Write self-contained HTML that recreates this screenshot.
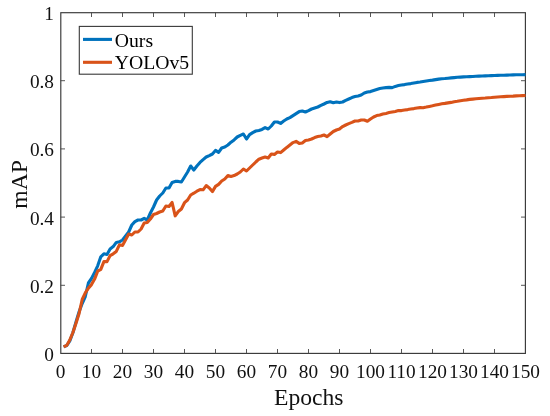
<!DOCTYPE html>
<html><head><meta charset="utf-8"><title>mAP</title>
<style>html,body{margin:0;padding:0;background:#fff}svg{display:block}text{font-family:"Liberation Serif","Times New Roman",serif}</style>
</head><body>
<svg width="550" height="416" viewBox="0 0 550 416">
<rect width="550" height="416" fill="#fff"/>
<rect x="60.8" y="12.7" width="464.6" height="340.7" fill="#fff" stroke="#383838" stroke-width="1.15"/>
<path d="M91.5 353.5v-4.5M91.5 12.5v4.5M122.5 353.5v-4.5M122.5 12.5v4.5M153.5 353.5v-4.5M153.5 12.5v4.5M184.5 353.5v-4.5M184.5 12.5v4.5M215.5 353.5v-4.5M215.5 12.5v4.5M246.5 353.5v-4.5M246.5 12.5v4.5M277.5 353.5v-4.5M277.5 12.5v4.5M308.5 353.5v-4.5M308.5 12.5v4.5M339.5 353.5v-4.5M339.5 12.5v4.5M370.5 353.5v-4.5M370.5 12.5v4.5M401.5 353.5v-4.5M401.5 12.5v4.5M432.5 353.5v-4.5M432.5 12.5v4.5M463.5 353.5v-4.5M463.5 12.5v4.5M494.5 353.5v-4.5M494.5 12.5v4.5M60.5 285.3h4.5M525.5 285.3h-4.5M60.5 217.1h4.5M525.5 217.1h-4.5M60.5 148.9h4.5M525.5 148.9h-4.5M60.5 80.7h4.5M525.5 80.7h-4.5" stroke="#444" stroke-width="0.9" fill="none"/>
<g font-size="19.3" text-anchor="middle" fill="#111"><text x="60.5" y="377.6">0</text><text x="91.5" y="377.6">10</text><text x="122.5" y="377.6">20</text><text x="153.5" y="377.6">30</text><text x="184.5" y="377.6">40</text><text x="215.5" y="377.6">50</text><text x="246.5" y="377.6">60</text><text x="277.5" y="377.6">70</text><text x="308.5" y="377.6">80</text><text x="339.5" y="377.6">90</text><text x="370.5" y="377.6">100</text><text x="401.5" y="377.6">110</text><text x="432.5" y="377.6">120</text><text x="463.5" y="377.6">130</text><text x="494.5" y="377.6">140</text><text x="525.5" y="377.6">150</text></g>
<g font-size="19.3" text-anchor="end" fill="#111"><text x="54" y="361.0">0</text><text x="54" y="292.8">0.2</text><text x="54" y="224.6">0.4</text><text x="54" y="156.4">0.6</text><text x="54" y="88.2">0.8</text><text x="54" y="20.0">1</text></g>
<text x="308.8" y="404.5" font-size="23.6" text-anchor="middle" fill="#111">Epochs</text>
<text transform="translate(26.8,184.4) rotate(-90)" font-size="23.6" text-anchor="middle" fill="#111">mAP</text>
<polyline points="63.6,346.8 66.7,345.6 69.8,341.0 72.9,332.8 76.0,322.0 79.1,311.8 82.2,303.5 85.3,296.5 88.4,283.0 91.5,278.5 94.6,272.5 97.7,265.8 100.8,256.8 103.9,253.8 107.0,254.4 110.1,249.0 113.2,246.6 116.3,242.4 119.4,241.8 122.5,240.0 125.6,236.0 128.7,232.0 131.8,225.0 134.9,221.6 138.0,220.0 141.1,220.0 144.2,218.4 147.3,220.0 150.4,213.0 153.5,207.0 156.6,200.0 159.7,196.0 162.8,193.0 165.9,188.0 169.0,188.0 172.1,182.4 175.2,181.4 178.3,181.4 181.4,182.0 184.5,177.0 187.6,172.0 190.7,166.0 193.8,170.0 196.9,166.0 200.0,162.4 203.1,159.6 206.2,157.0 209.3,155.6 212.4,154.0 215.5,150.4 218.6,152.4 221.7,148.0 224.8,147.0 227.9,145.0 231.0,142.2 234.1,139.9 237.2,137.0 240.3,135.4 243.4,134.0 246.5,139.0 249.6,134.6 252.7,132.6 255.8,131.0 258.9,130.4 262.0,129.4 265.1,127.6 268.2,129.0 271.3,126.0 274.4,122.0 277.5,122.0 280.6,123.4 283.7,121.0 286.8,119.0 289.9,117.6 293.0,115.6 296.1,113.6 299.2,111.6 302.3,111.0 305.4,112.0 308.5,110.6 311.6,109.0 314.7,108.0 317.8,107.0 320.9,105.4 324.0,104.0 327.1,102.4 330.2,101.7 333.3,102.7 336.4,102.0 339.5,102.6 342.6,102.0 345.7,100.4 348.8,99.0 351.9,97.6 355.0,96.6 358.1,96.0 361.2,95.0 364.3,93.0 367.4,92.0 370.5,91.6 373.6,90.6 376.7,89.6 379.8,88.6 382.9,88.0 386.0,87.6 389.1,87.4 392.2,87.6 395.3,86.4 398.4,85.6 401.5,85.0 404.6,84.6 407.7,84.0 410.8,83.6 413.9,83.0 417.0,82.4 420.1,82.0 423.2,81.5 426.3,81.0 429.4,80.5 432.5,80.1 435.6,79.6 438.7,79.1 441.8,78.7 444.9,78.5 448.0,78.2 451.1,77.9 454.2,77.6 457.3,77.3 460.4,77.1 463.5,76.9 466.6,76.8 469.7,76.6 472.8,76.5 475.9,76.3 479.0,76.1 482.1,76.0 485.2,75.9 488.3,75.8 491.4,75.6 494.5,75.5 497.6,75.4 500.7,75.3 503.8,75.2 506.9,75.1 510.0,75.0 513.1,74.9 516.2,74.8 519.3,74.8 522.4,74.7 525.5,74.6" fill="none" stroke="#0072BD" stroke-width="3.1" stroke-linejoin="round"/>
<polyline points="63.6,346.8 66.7,345.4 69.8,340.0 72.9,332.5 76.0,323.3 79.1,313.5 82.2,299.5 85.3,292.8 88.4,288.1 91.5,284.6 94.6,279.1 97.7,271.2 100.8,269.4 103.9,261.6 107.0,261.6 110.1,255.6 113.2,253.8 116.3,251.4 119.4,244.8 122.5,245.4 125.6,239.8 128.7,234.0 131.8,235.0 134.9,232.0 138.0,232.0 141.1,229.0 144.2,223.0 147.3,222.4 150.4,219.0 153.5,214.5 156.6,213.5 159.7,212.0 162.8,211.0 165.9,206.0 169.0,206.5 172.1,202.5 175.2,215.8 178.3,211.5 181.4,209.0 184.5,202.7 187.6,200.0 190.7,195.0 193.8,193.2 196.9,191.2 200.0,189.6 203.1,189.8 206.2,185.6 209.3,188.0 212.4,191.6 215.5,186.4 218.6,184.4 221.7,181.0 224.8,179.0 227.9,175.6 231.0,176.4 234.1,175.6 237.2,174.0 240.3,172.0 243.4,169.0 246.5,171.0 249.6,168.0 252.7,165.0 255.8,162.0 258.9,159.2 262.0,158.0 265.1,157.0 268.2,158.0 271.3,154.0 274.4,154.4 277.5,152.0 280.6,152.6 283.7,150.0 286.8,147.4 289.9,145.0 293.0,142.6 296.1,141.4 299.2,143.4 302.3,143.0 305.4,140.6 308.5,140.0 311.6,139.0 314.7,137.6 317.8,136.6 320.9,136.0 324.0,135.0 327.1,136.6 330.2,134.0 333.3,131.5 336.4,130.0 339.5,129.0 342.6,126.6 345.7,125.0 348.8,123.6 351.9,122.4 355.0,121.0 358.1,121.0 361.2,120.0 364.3,120.0 367.4,121.2 370.5,119.0 373.6,117.0 376.7,115.6 379.8,115.0 382.9,114.0 386.0,113.4 389.1,112.6 392.2,112.0 395.3,111.4 398.4,110.6 401.5,110.6 404.6,110.0 407.7,109.6 410.8,109.0 413.9,108.6 417.0,108.0 420.1,107.6 423.2,107.7 426.3,107.1 429.4,106.4 432.5,105.8 435.6,105.1 438.7,104.4 441.8,103.8 444.9,103.4 448.0,102.9 451.1,102.4 454.2,101.8 457.3,101.3 460.4,100.7 463.5,100.3 466.6,99.9 469.7,99.4 472.8,99.1 475.9,98.8 479.0,98.5 482.1,98.2 485.2,98.0 488.3,97.7 491.4,97.5 494.5,97.2 497.6,97.0 500.7,96.8 503.8,96.6 506.9,96.4 510.0,96.2 513.1,96.1 516.2,95.9 519.3,95.8 522.4,95.6 525.5,95.5" fill="none" stroke="#D95319" stroke-width="3.1" stroke-linejoin="round"/>
<rect x="79.3" y="26.4" width="113" height="47.8" fill="#fff" stroke="#383838" stroke-width="1.1"/>
<path d="M83 39.4H112" stroke="#0072BD" stroke-width="3.1"/>
<path d="M83 62.3H112" stroke="#D95319" stroke-width="3.1"/>
<text x="114.8" y="46.5" font-size="19.7" fill="#000">Ours</text>
<text x="114.8" y="69.4" font-size="19.7" fill="#000">YOLOv5</text>
</svg>
</body></html>
